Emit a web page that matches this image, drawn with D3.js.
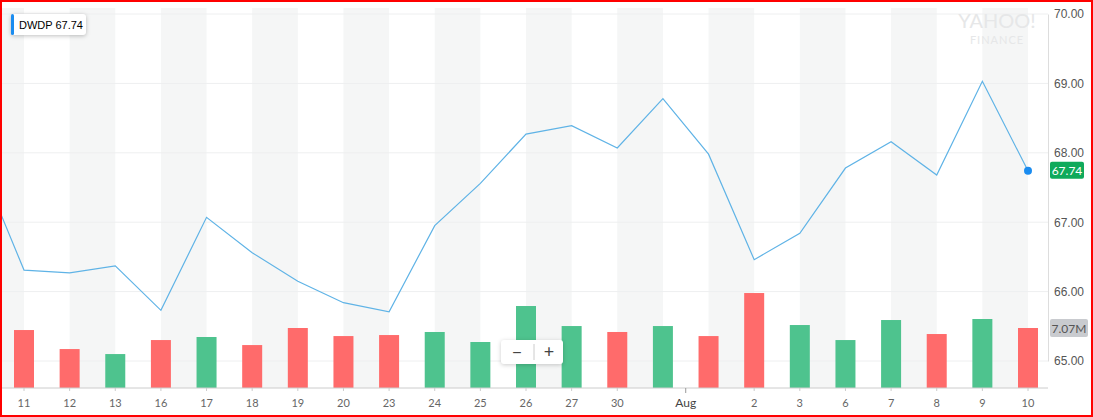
<!DOCTYPE html>
<html><head><meta charset="utf-8">
<script src="https://cdn.jsdelivr.net/npm/d3@7"></script>
<style>body{margin:0;}svg{display:block;font-family:Lato,"Open Sans",sans-serif;}</style>
</head><body><div id="chart"></div>
<script>
// dates (Jul 10 .. Aug 10), label "" = no tick label
var days   = ["10","11","12","13","16","17","18","19","20","23","24","25","26","27","30","31","1","2","3","6","7","8","9","10"];
var labels = ["","11","12","13","16","17","18","19","20","23","24","25","26","27","30","","","2","3","6","7","8","9","10"];
var prices = [67.9,66.31,66.27,66.37,65.73,67.07,66.56,66.15,65.84,65.71,66.95,67.56,68.27,68.39,68.07,68.78,67.98,66.46,66.84,67.78,68.16,67.68,69.03,67.74];
var volumes = [null,6.83,4.59,4.0,5.65,6.01,5.06,7.07,6.12,6.24,6.6,5.42,9.66,7.3,6.6,7.3,6.12,11.19,7.42,5.65,8.01,6.36,8.13,7.07];
var up = [null,0,0,1,0,1,0,0,0,0,1,1,1,1,0,1,0,0,1,1,1,0,1,0];
var yTicks = [65,66,67,68,69,70];

var W = 1093, H = 417, plotR = 1048, plotB = 388, plotT = 8;
var svg = d3.select("#chart").append("svg").attr("width", W).attr("height", H);
svg.append("rect").attr("width", W).attr("height", H).attr("fill", "#fff");

var x = d3.scaleLinear().domain([1, days.length - 1]).range([24, 1028]);
var y = d3.scaleLinear().domain([65, 70]).range([361, 14]);
var v = d3.scaleLinear().domain([0, 7.07]).range([plotB, 328]);

var g = svg.append("g");
g.append("clipPath").attr("id", "clip").append("rect")
  .attr("x", 0).attr("y", plotT).attr("width", plotR).attr("height", plotB - plotT);

// alternating bands
var bands = d3.range(0, days.length).filter(i => i % 2 == 0);
g.append("g").attr("clip-path", "url(#clip)").selectAll("rect").data(bands).enter().append("rect")
  .attr("x", i => x(i)).attr("y", plotT)
  .attr("width", x(1) - x(0)).attr("height", plotB - plotT)
  .attr("fill", "#f5f6f6");

// gridlines
g.selectAll(".grid").data(yTicks).enter().append("line")
  .attr("x1", 0).attr("x2", plotR).attr("y1", d => y(d)).attr("y2", d => y(d))
  .attr("stroke", "#eeeff0");

// watermark
g.append("text").attr("x", 997).attr("y", 28).attr("text-anchor", "middle")
  .attr("font-size", 20).attr("fill", "#e6e7e8").text("YAHOO!");
g.append("text").attr("x", 997).attr("y", 44).attr("text-anchor", "middle")
  .attr("font-size", 11).attr("letter-spacing", 1).attr("fill", "#e6e7e8").text("FINANCE");

// volume bars
var vi = d3.range(1, days.length);
g.selectAll(".bar").data(vi).enter().append("rect")
  .attr("x", i => x(i) - 10).attr("width", 20)
  .attr("y", i => v(volumes[i])).attr("height", i => plotB - v(volumes[i]))
  .attr("fill", i => up[i] ? "#4ec38e" : "#ff6b6b");

// price line
var line = d3.line().x((d, i) => x(i)).y(d => y(d));
g.append("path").datum(prices).attr("clip-path", "url(#clip)")
  .attr("d", line).attr("fill", "none").attr("stroke", "#5fb3e6").attr("stroke-width", 1.2);
g.append("circle").attr("cx", x(prices.length - 1)).attr("cy", y(prices[prices.length - 1]))
  .attr("r", 4).attr("fill", "#1a8cf0");

// axes
var yAxis = d3.axisRight(y).tickValues(yTicks).tickFormat(d3.format(".2f")).tickSize(0).tickPadding(6);
var ya = svg.append("g").attr("transform", "translate(" + plotR + ",0)").call(yAxis);
ya.select(".domain").attr("stroke", "#ddd");
ya.selectAll("text").attr("font-size", 12).attr("fill", "#555");

var xa = svg.append("g").attr("transform", "translate(0," + plotB + ")");
xa.append("line").attr("x1", 0).attr("x2", plotR).attr("stroke", "#ccc");
var ti = vi.filter(i => labels[i] != "");
xa.selectAll(".t").data(ti).enter().append("line")
  .attr("x1", i => x(i)).attr("x2", i => x(i)).attr("y2", 3).attr("stroke", "#ccc");
xa.selectAll(".l").data(ti).enter().append("text")
  .attr("x", i => x(i)).attr("y", 19).attr("text-anchor", "middle")
  .attr("font-size", 11).attr("fill", "#666").text(i => labels[i]);
var augX = (x(15) + x(16)) / 2;
xa.append("line").attr("x1", augX).attr("x2", augX).attr("y2", 5).attr("stroke", "#999");
xa.append("text").attr("x", augX).attr("y", 19).attr("text-anchor", "middle")
  .attr("font-size", 12).attr("fill", "#444").text("Aug");

// price and volume tags
var last = prices.length - 1;
svg.append("rect").attr("x", 1050).attr("y", y(prices[last]) - 9).attr("width", 34).attr("height", 17)
  .attr("rx", 2).attr("fill", "#0faa5b");
svg.append("text").attr("x", 1067).attr("y", y(prices[last]) + 4).attr("text-anchor", "middle")
  .attr("font-size", 12).attr("fill", "#fff").text(prices[last].toFixed(2));
svg.append("rect").attr("x", 1050).attr("y", v(volumes[last]) - 9).attr("width", 38).attr("height", 18)
  .attr("rx", 2).attr("fill", "#c9cbcf");
svg.append("text").attr("x", 1069).attr("y", v(volumes[last]) + 5).attr("text-anchor", "middle")
  .attr("font-size", 12).attr("fill", "#555").text(volumes[last].toFixed(2) + "M");

// legend tag
var lg = svg.append("g").attr("transform", "translate(11,14)");
lg.append("rect").attr("width", 75).attr("height", 21).attr("rx", 3).attr("fill", "#fff")
  .style("filter", "drop-shadow(0 1px 2px rgba(0,0,0,0.25))");
lg.append("rect").attr("width", 3).attr("height", 21).attr("rx", 1.5).attr("fill", "#1a8cf0");
lg.append("text").attr("x", 8).attr("y", 15).attr("font-size", 11).attr("fill", "#000")
  .attr("font-family", "Arial, 'Liberation Sans', sans-serif").text("DWDP 67.74");

// zoom control
var zc = svg.append("g").attr("transform", "translate(501,340)");
zc.append("rect").attr("width", 62).attr("height", 24).attr("rx", 3).attr("fill", "#fff")
  .style("filter", "drop-shadow(0 1px 2px rgba(0,0,0,0.2))");
zc.append("text").attr("x", 16).attr("y", 18).attr("text-anchor", "middle").attr("font-size", 18).attr("fill", "#444").text("−");
zc.append("line").attr("x1", 33).attr("x2", 33).attr("y1", 4).attr("y2", 20).attr("stroke", "#ccc");
zc.append("text").attr("x", 48).attr("y", 18).attr("text-anchor", "middle").attr("font-size", 18).attr("fill", "#444").text("+");

// red frame
svg.append("rect").attr("x", 1).attr("y", 1).attr("width", W - 2).attr("height", H - 2)
  .attr("fill", "none").attr("stroke", "#f00").attr("stroke-width", 2);
</script></body></html>
